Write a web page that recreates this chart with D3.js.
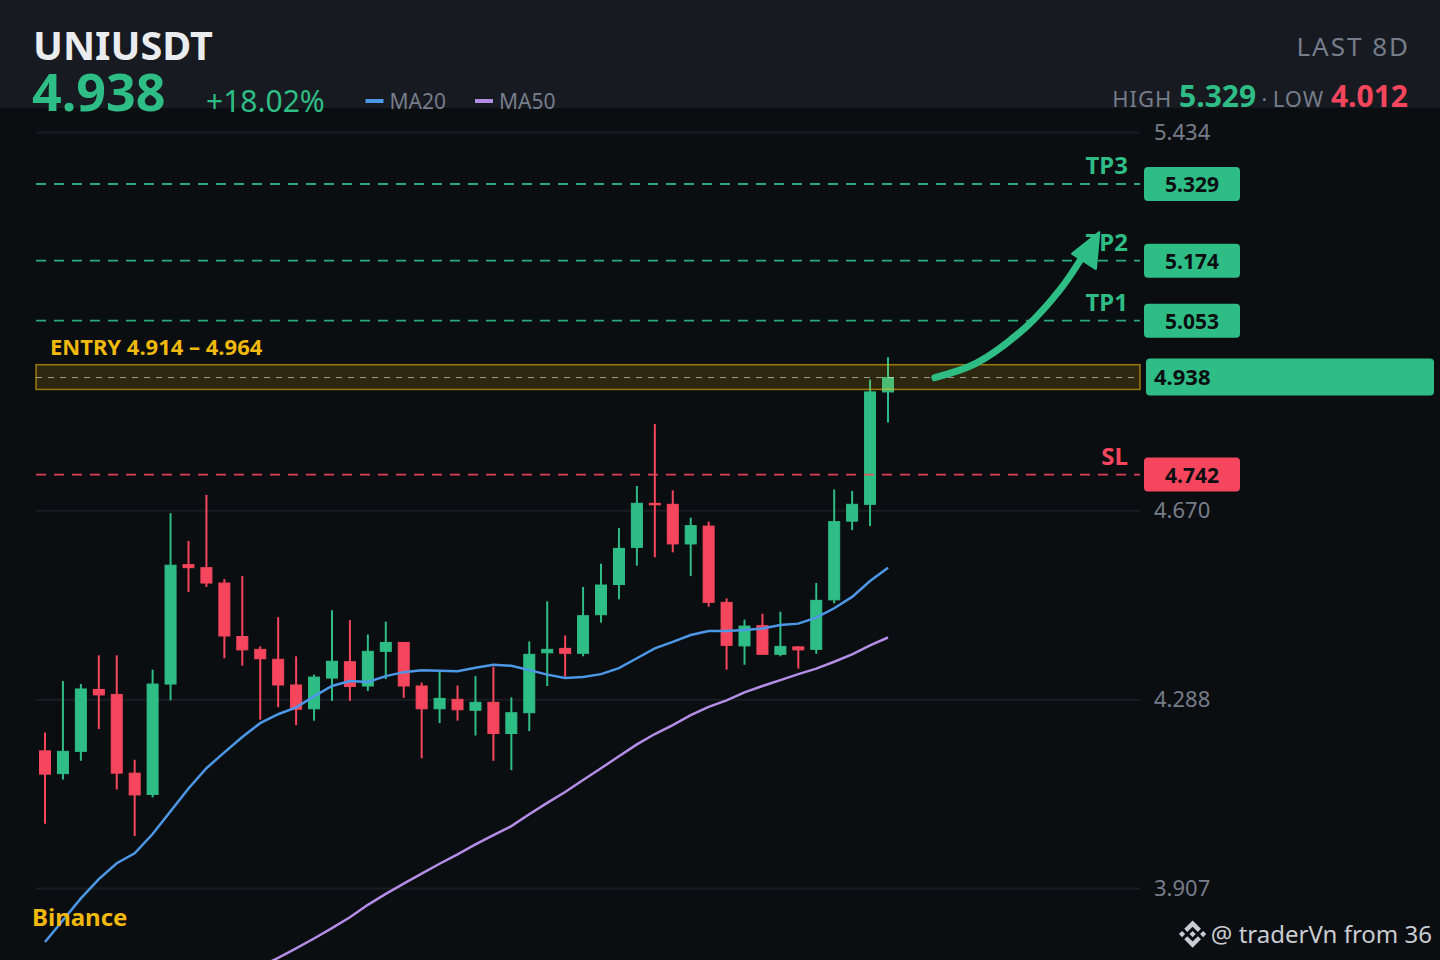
<!DOCTYPE html>
<html>
<head>
<meta charset="utf-8">
<script src="https://cdn.jsdelivr.net/npm/d3@7"></script>
<style>
  html, body { margin: 0; background: #0b0e11; }
  svg { display: block; }
  text { font-family: "Noto Sans", sans-serif; }
</style>
</head>
<body>
<div id="chart"></div>
<script>
// candles, one per bar
let opens = [4.184,4.138,4.183,4.308,4.298,4.139,4.096,4.319,4.560,4.554,4.523,4.415,4.389,4.369,4.317,4.269,
             4.331,4.364,4.315,4.385,4.403,4.315,4.269,4.288,4.266,4.282,4.219,4.261,4.382,4.391,4.381,4.459,
             4.520,4.595,4.684,4.682,4.602,4.638,4.484,4.396,4.437,4.379,4.394,4.389,4.489,4.648,4.682,4.909]
let closes = [4.137,4.183,4.309,4.297,4.139,4.095,4.319,4.559,4.554,4.523,4.416,4.388,4.370,4.317,4.268,4.333,
              4.365,4.314,4.385,4.403,4.315,4.269,4.290,4.267,4.282,4.219,4.261,4.379,4.389,4.381,4.457,4.519,
              4.593,4.684,4.681,4.602,4.639,4.484,4.397,4.436,4.379,4.395,4.388,4.488,4.647,4.682,4.909,4.938]
let highs = [4.221,4.325,4.319,4.377,4.377,4.166,4.348,4.664,4.608,4.701,4.531,4.537,4.395,4.454,4.375,4.338,
             4.468,4.448,4.419,4.445,4.403,4.322,4.345,4.316,4.335,4.354,4.292,4.405,4.486,4.417,4.515,4.562,
             4.634,4.719,4.844,4.710,4.655,4.647,4.492,4.449,4.461,4.465,4.395,4.523,4.712,4.709,4.934,4.979]
let lows = [4.037,4.126,4.164,4.228,4.106,4.012,4.090,4.286,4.505,4.515,4.371,4.356,4.247,4.272,4.236,4.245,
            4.285,4.285,4.305,4.329,4.291,4.169,4.240,4.245,4.215,4.164,4.145,4.224,4.315,4.334,4.375,4.443,
            4.490,4.558,4.575,4.585,4.537,4.475,4.348,4.358,4.379,4.375,4.350,4.380,4.482,4.630,4.638,4.847]

let ma20 = [3.798,3.842,3.886,3.925,3.957,3.977,4.016,4.062,4.108,4.149,4.181,4.212,4.240,4.258,4.272,4.294,
            4.315,4.325,4.323,4.335,4.343,4.347,4.346,4.345,4.352,4.358,4.356,4.347,4.338,4.331,4.333,4.339,
            4.351,4.371,4.391,4.404,4.418,4.426,4.426,4.428,4.431,4.438,4.441,4.453,4.472,4.495,4.527,4.554]
// ma50 only shows from bar 12 on, before that it is under the picture
let ma50Start = 12
let ma50 = [3.748,3.766,3.785,3.805,3.826,3.848,3.873,3.895,3.916,3.936,3.956,3.975,3.995,4.014,4.032,4.056,
            4.079,4.101,4.125,4.149,4.173,4.197,4.218,4.236,4.256,4.273,4.286,4.302,4.315,4.327,4.339,4.350,
            4.364,4.379,4.397,4.413]

let yTicks = [5.434, 4.670, 4.288, 3.907]

let levelNames = ["TP3", "TP2", "TP1", "SL"]
let levelValues = [5.329, 5.174, 5.053, 4.742]
let entryLow = 4.914
let entryHigh = 4.964
let lastPrice = 4.938

// arrow, given as [bar, price]
let arrowPath = [[49.61,4.938],[51.93,4.967],[54.72,5.041],[56.58,5.115],[57.79,5.179]]
let arrowHead = [[58.77,5.231],[57.28,5.188],[58.58,5.158]]

let green = "#2ebd85"
let red = "#f6465d"
let gold = "#f0b90b"
let grey = "#767d8a"
let blue = "#4d98e6"
let purple = "#b48ee6"

let svg = d3.select("#chart").append("svg")
  .attr("width", 1440)
  .attr("height", 960)

let x = d3.scaleLinear().domain([0, 47]).range([45, 888])
let y = d3.scaleLinear().domain([3.907, 5.434]).range([888, 132])
let left = 36, right = 1140

svg.append("rect").attr("width", 1440).attr("height", 960).style("fill", "#0b0e11")
svg.append("rect").attr("width", 1440).attr("height", 108).style("fill", "#171a20")

// price axis, the ticks double as grid lines
let axis = svg.append("g")
  .attr("transform", "translate(" + left + ",0)")
  .call(d3.axisRight(y).tickValues(yTicks).tickFormat(d3.format(".3f")).tickSize(right - left).tickPadding(14))
axis.select(".domain").remove()
axis.selectAll("line").style("stroke", "#1a1d22").style("stroke-width", 2)
axis.selectAll("text")
  .style("fill", grey)
  .style("font-size", "22px")
  .style("font-family", '"Noto Sans", sans-serif')

// candles
let bars = d3.range(opens.length)
let colour = i => closes[i] >= opens[i] ? green : red

svg.append("g").selectAll("line").data(bars).join("line")
  .attr("x1", i => x(i)).attr("x2", i => x(i))
  .attr("y1", i => y(highs[i])).attr("y2", i => y(lows[i]))
  .style("stroke", colour)
  .style("stroke-width", 2)

svg.append("g").selectAll("rect").data(bars).join("rect")
  .attr("x", i => x(i) - 5.5)
  .attr("width", 11)
  .attr("y", i => y(Math.max(opens[i], closes[i])))
  .attr("height", i => Math.max(1.5, Math.abs(y(opens[i]) - y(closes[i]))))
  .style("fill", colour)
  .style("stroke", colour)
  .style("stroke-width", 1)

// moving averages
let maLine = d3.line().x(d => x(d[0])).y(d => y(d[1]))
svg.append("path")
  .attr("d", maLine(ma20.map((v, i) => [i, v])))
  .style("fill", "none").style("stroke", blue).style("stroke-width", 2.5)
svg.append("path")
  .attr("d", maLine(ma50.map((v, i) => [i + ma50Start, v])))
  .style("fill", "none").style("stroke", purple).style("stroke-width", 2.5)

// entry zone sits over the candles
svg.append("rect")
  .attr("x", left).attr("width", right - left)
  .attr("y", y(entryHigh)).attr("height", y(entryLow) - y(entryHigh))
  .style("fill", gold).style("fill-opacity", 0.15)
  .style("stroke", gold).style("stroke-opacity", 0.6).style("stroke-width", 1.5)
svg.append("line")
  .attr("x1", left).attr("x2", right)
  .attr("y1", y(lastPrice)).attr("y2", y(lastPrice))
  .style("stroke", "#eaecef").style("stroke-opacity", 0.6)
  .style("stroke-width", 1).style("stroke-dasharray", "6 6")
svg.append("text")
  .attr("x", 50).attr("y", y(entryHigh) - 10)
  .text("ENTRY " + entryLow + " – " + entryHigh)
  .style("fill", gold).style("font-size", "22px").style("font-weight", 700)

// TP / SL levels
let levels = svg.append("g").selectAll("g").data(levelNames).join("g")
let levelColour = d => d == "SL" ? red : green
let levelY = (d, i) => y(levelValues[i])

levels.append("line")
  .attr("x1", left).attr("x2", right)
  .attr("y1", levelY).attr("y2", levelY)
  .style("stroke", levelColour).style("stroke-width", 1.8)
  .style("stroke-opacity", 0.9).style("stroke-dasharray", "10 8")
levels.append("text")
  .attr("x", 1128).attr("y", (d, i) => levelY(d, i) - 10)
  .attr("text-anchor", "end")
  .text(d => d)
  .style("fill", levelColour).style("font-size", "24px").style("font-weight", 700)
levels.append("rect")
  .attr("x", 1144).attr("width", 96)
  .attr("y", (d, i) => levelY(d, i) - 17).attr("height", 34)
  .attr("rx", 4)
  .style("fill", levelColour)
levels.append("text")
  .attr("x", 1192).attr("y", (d, i) => levelY(d, i) + 8)
  .attr("text-anchor", "middle")
  .text((d, i) => levelValues[i].toFixed(3))
  .style("fill", "#0b0e11").style("font-size", "21px").style("font-weight", 700)

// last price tag
svg.append("rect")
  .attr("x", 1146).attr("width", 288)
  .attr("y", y(lastPrice) - 19).attr("height", 37).attr("rx", 4)
  .style("fill", green)
svg.append("text")
  .attr("x", 1154).attr("y", y(lastPrice) + 7.5)
  .text(lastPrice.toFixed(3))
  .style("fill", "#0b0e11").style("font-size", "22px").style("font-weight", 700)

// arrow
let px = d => [x(d[0]), y(d[1])]
svg.append("path")
  .attr("d", d3.line().curve(d3.curveCatmullRom)(arrowPath.map(px)))
  .style("fill", "none").style("stroke", green)
  .style("stroke-width", 7).style("stroke-linecap", "round")
svg.append("path")
  .attr("d", d3.line().curve(d3.curveLinearClosed)(arrowHead.map(px)))
  .style("fill", green).style("stroke", green)
  .style("stroke-width", 2.5).style("stroke-linejoin", "round")

// header
svg.append("text").attr("x", 33).attr("y", 60).text("UNIUSDT")
  .style("fill", "#eaecef").style("font-size", "39.6px").style("font-weight", 700)
svg.append("text").attr("x", 32).attr("y", 111).text(lastPrice.toFixed(3))
  .style("fill", green).style("font-size", "52px").style("font-weight", 700)
svg.append("text").attr("x", 206).attr("y", 112).text("+18.02%")
  .style("fill", green).style("font-size", "30px")

let legendNames = ["MA20", "MA50"]
let legendColours = [blue, purple]
let legend = svg.append("g").selectAll("g").data(legendNames).join("g")
  .attr("transform", (d, i) => "translate(" + (365.5 + i * 109.5) + ",0)")
legend.append("rect")
  .attr("y", 99).attr("width", 18).attr("height", 4)
  .style("fill", (d, i) => legendColours[i])
legend.append("text")
  .attr("x", 24).attr("y", 109).text(d => d)
  .style("fill", grey).style("font-size", "21px")

svg.append("text").attr("x", 1410).attr("y", 56)
  .attr("text-anchor", "end").text("LAST 8D")
  .style("fill", grey).style("font-size", "26px").style("letter-spacing", "2px")

let range = svg.append("text").attr("x", 1408).attr("y", 107).attr("text-anchor", "end")
range.append("tspan").text("HIGH ").style("fill", grey).style("font-size", "22px").style("letter-spacing", "1px")
range.append("tspan").text("5.329").style("fill", green).style("font-size", "30px").style("font-weight", 700)
range.append("tspan").text(" · ").style("fill", grey).style("font-size", "21px")
range.append("tspan").text("LOW ").style("fill", grey).style("font-size", "22px").style("letter-spacing", "1px")
range.append("tspan").text("4.012").style("fill", red).style("font-size", "30px").style("font-weight", 700)

// footer
svg.append("text").attr("x", 32).attr("y", 926).text("Binance")
  .style("fill", gold).style("font-size", "24px").style("font-weight", 700)

let logo = svg.append("g")
  .attr("transform", "translate(1179,920.5) scale(0.215)")
  .style("fill", "#c9ccd1")
let logoShapes = [
  "38.73 53.2 63.3 28.65 87.89 53.22 102.18 38.92 63.31 0 24.42 38.9",
  "0 63.3 14.3 49 28.6 63.3 14.3 77.6",
  "38.73 73.41 63.3 97.97 87.9 73.4 102.2 87.69 63.31 126.61 24.43 87.72",
  "97.97 63.3 112.27 49 126.57 63.3 112.27 77.6",
  "77.8 63.3 63.31 48.79 48.83 63.27 63.31 77.8"
]
logo.selectAll("polygon").data(logoShapes).join("polygon").attr("points", d => d)

svg.append("text").attr("x", 1432).attr("y", 943)
  .attr("text-anchor", "end").text("@ traderVn from 36")
  .style("fill", "#c9ccd1").style("font-size", "24px")
</script>
</body>
</html>
